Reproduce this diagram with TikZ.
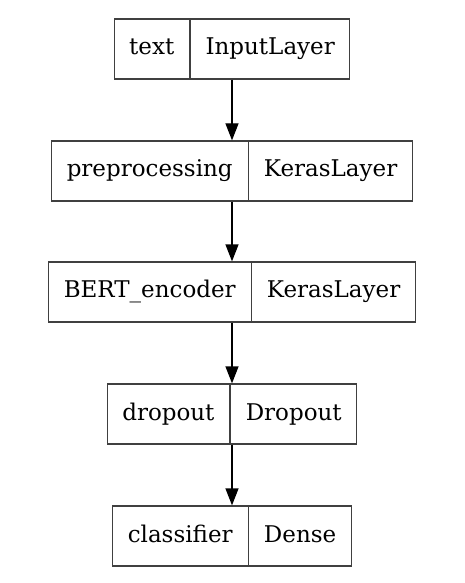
\documentclass[tikz,border=0pt]{standalone}
\usepackage{fontspec}
\setmainfont{DejaVu Serif}
\usetikzlibrary{shapes.multipart,arrows.meta}

\begin{document}
\begin{tikzpicture}[x=1pt,y=-1pt,
	layer/.style={rectangle split, rectangle split horizontal, rectangle split parts=2,
		rectangle split part align=base,
		draw=black!75, line width=1.3pt, inner xsep=15pt, inner ysep=0pt,
		text height=17pt, text depth=5pt,
		minimum height=60pt, font=\fontsize{23}{27}\selectfont},
	flow/.style={-{Triangle[width=13pt,length=17pt]}, line width=1.3pt}]
	\useasboundingbox (0, 0) rectangle (464, 583);
	\node [layer] (text) at (232, 49) {text \nodepart{two} InputLayer};
	\node [layer] (preprocessing) at (232, 171) {preprocessing \nodepart{two} KerasLayer};
	\node [layer] (BERT) at (232, 292) {BERT\_encoder \nodepart{two} KerasLayer};
	\node [layer] (dropout) at (232, 414) {dropout \nodepart{two} Dropout};
	\node [layer] (classifier) at (232, 536) {classifier \nodepart{two} Dense};
	\draw [flow] (text) -- (preprocessing);
	\draw [flow] (preprocessing) -- (BERT);
	\draw [flow] (BERT) -- (dropout);
	\draw [flow] (dropout) -- (classifier);
\end{tikzpicture}
\end{document}
